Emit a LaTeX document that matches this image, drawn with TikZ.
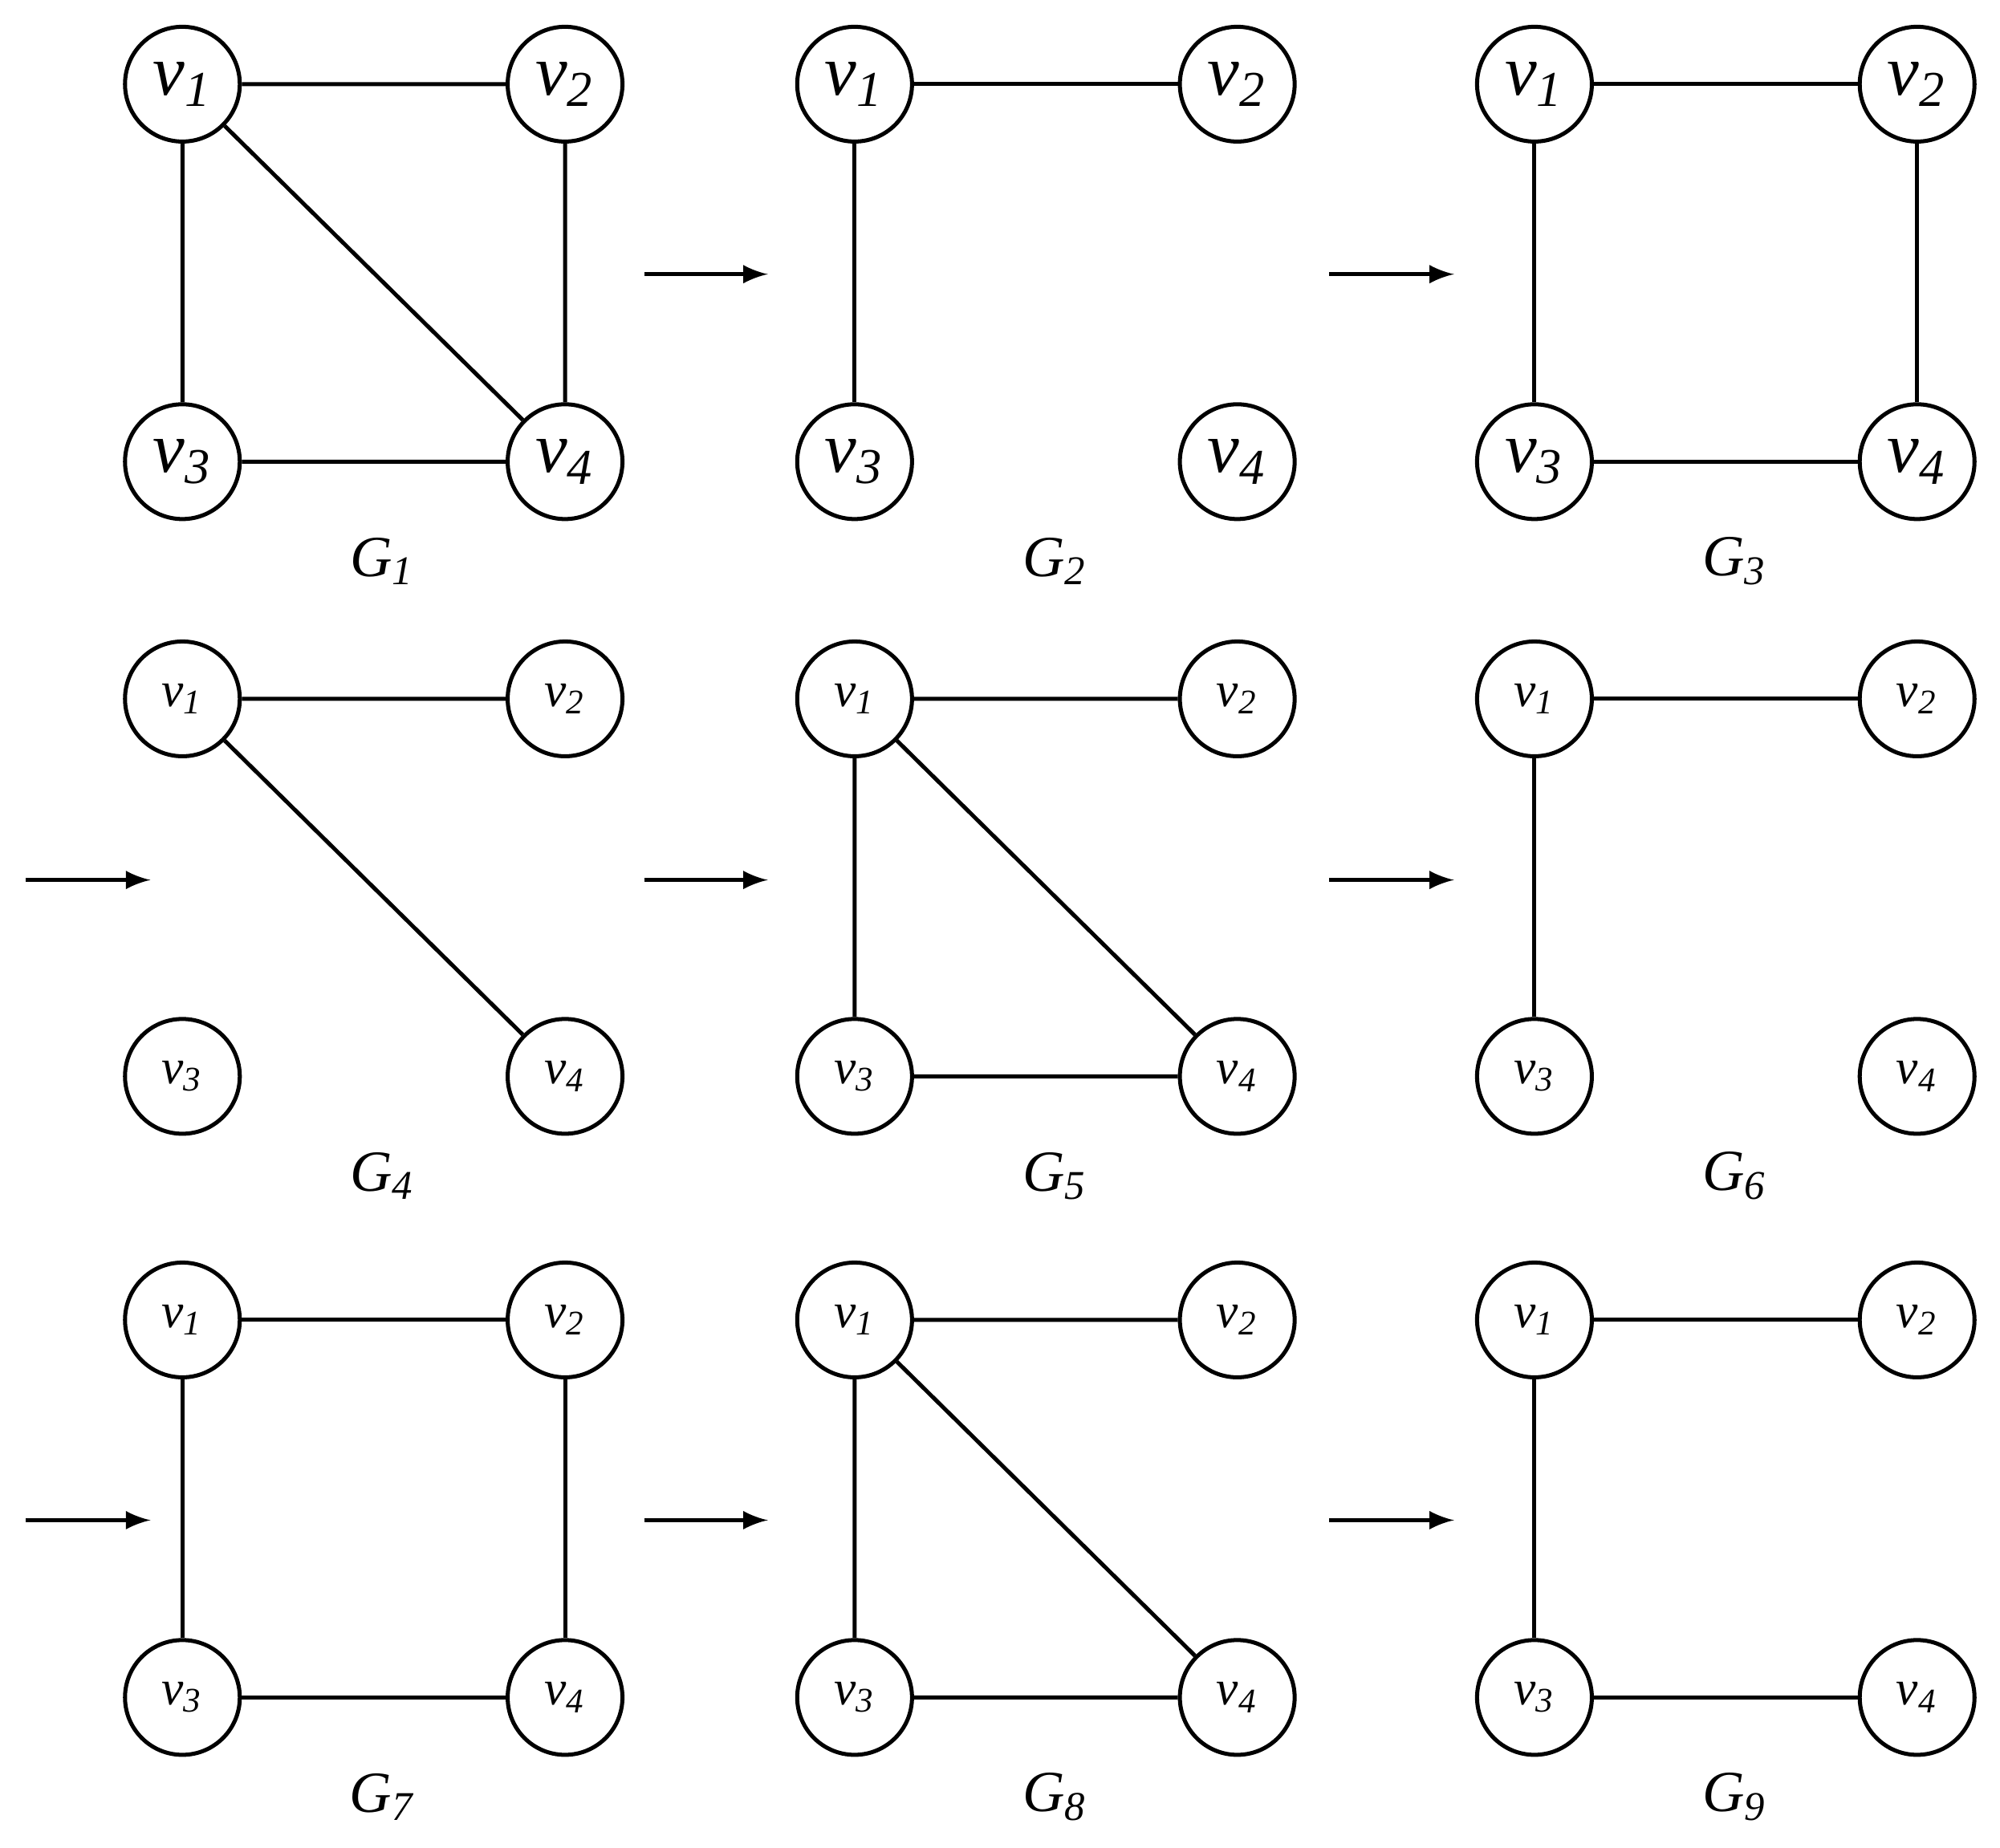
\documentclass[tikz,border=0pt]{standalone}
\usepackage{fontspec}
\setmainfont{Liberation Serif}
\begin{document}
\begin{tikzpicture}[x=1cm,y=1cm,
  vtx/.style={draw,circle,line width=0.9pt,minimum size=0.9cm,inner sep=0pt},
  edge/.style={line width=0.9pt},
  arr/.style={line width=0.9pt,-latex},
  glab/.style={font=\fontsize{13}{13}\selectfont}]
\useasboundingbox (0,0) rectangle (15.68,-14.49);
\newcommand\vl[1]{\textit{v}\textsubscript{\textit{#1}}}
% #1 name, #2 x, #3 y, #4 font size, #5 label index
\newcommand\graphat[5]{%
  \node[vtx,font=\fontsize{#4}{#4}\selectfont] (#1a) at (#2,#3) {\vl{1}};
  \node[vtx,font=\fontsize{#4}{#4}\selectfont] (#1b) at (#2+3,#3) {\vl{2}};
  \node[vtx,font=\fontsize{#4}{#4}\selectfont] (#1c) at (#2,#3-2.96) {\vl{3}};
  \node[vtx,font=\fontsize{#4}{#4}\selectfont] (#1d) at (#2+3,#3-2.96) {\vl{4}};
  \node[glab] (#1l) at (#2+1.57,#3-3.74) {\textit{G}\textsubscript{\textit{#5}}};
}
\graphat{A}{1.43}{-0.66}{16}{1}
\graphat{B}{6.70}{-0.66}{16}{2}
\graphat{C}{12.03}{-0.66}{16}{3}
\graphat{D}{1.43}{-5.48}{11}{4}
\graphat{E}{6.70}{-5.48}{11}{5}
\graphat{F}{12.03}{-5.48}{11}{6}
\graphat{G}{1.43}{-10.35}{11}{7}
\graphat{H}{6.70}{-10.35}{11}{8}
\graphat{I}{12.03}{-10.35}{11}{9}
% edges
\draw[edge] (Aa)--(Ab) (Aa)--(Ac) (Aa)--(Ad) (Ab)--(Ad) (Ac)--(Ad);
\draw[edge] (Ba)--(Bb) (Ba)--(Bc);
\draw[edge] (Ca)--(Cb) (Ca)--(Cc) (Cb)--(Cd) (Cc)--(Cd);
\draw[edge] (Da)--(Db) (Da)--(Dd);
\draw[edge] (Ea)--(Eb) (Ea)--(Ec) (Ea)--(Ed) (Ec)--(Ed);
\draw[edge] (Fa)--(Fb) (Fa)--(Fc);
\draw[edge] (Ga)--(Gb) (Ga)--(Gc) (Gb)--(Gd) (Gc)--(Gd);
\draw[edge] (Ha)--(Hb) (Ha)--(Hc) (Ha)--(Hd) (Hc)--(Hd);
\draw[edge] (Ia)--(Ib) (Ia)--(Ic) (Ic)--(Id);
% arrows
\coordinate (r1a) at (5.05,-2.15); \coordinate (r1b) at (6.02,-2.15);
\coordinate (r1c) at (10.42,-2.15); \coordinate (r1d) at (11.40,-2.15);
\draw[arr] (r1a)--(r1b); \draw[arr] (r1c)--(r1d);
\coordinate (r2o) at (0.20,-6.90); \coordinate (r2p) at (1.18,-6.90);
\coordinate (r2a) at (5.05,-6.90); \coordinate (r2b) at (6.02,-6.90);
\coordinate (r2c) at (10.42,-6.90); \coordinate (r2d) at (11.40,-6.90);
\draw[arr] (r2o)--(r2p); \draw[arr] (r2a)--(r2b); \draw[arr] (r2c)--(r2d);
\coordinate (r3o) at (0.20,-11.92); \coordinate (r3p) at (1.18,-11.92);
\coordinate (r3a) at (5.05,-11.92); \coordinate (r3b) at (6.02,-11.92);
\coordinate (r3c) at (10.42,-11.92); \coordinate (r3d) at (11.40,-11.92);
\draw[arr] (r3o)--(r3p); \draw[arr] (r3a)--(r3b); \draw[arr] (r3c)--(r3d);
\end{tikzpicture}
\end{document}
